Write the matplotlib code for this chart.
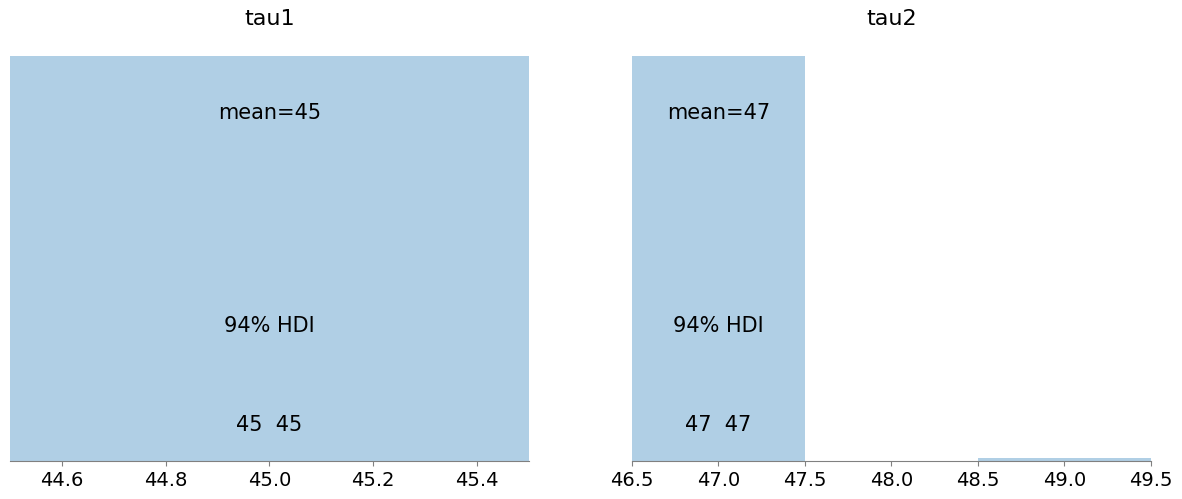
import numpy as np
import matplotlib
matplotlib.use("Agg")
import matplotlib.pyplot as plt

# posterior samples summarised as histogram counts
names = ["tau1", "tau2"]
bin_edges = [[44.5, 45.5], [46.5, 47.5, 48.5, 49.5]]
counts = [[4000], [3970, 0, 30]]
means = [45, 47]
hdi = [(45, 45), (47, 47)]
xticks = [[44.6, 44.8, 45.0, 45.2, 45.4], [46.5, 47.0, 47.5, 48.0, 48.5, 49.0, 49.5]]

bar_color = (0.69, 0.812, 0.898)

fig = plt.figure(figsize=(11.82, 4.99), dpi=100)
positions = [[0.0085, 0.076, 0.439, 0.812], [0.5347, 0.076, 0.439, 0.812]]

for i in range(2):
    ax = fig.add_axes(positions[i])
    edges = np.array(bin_edges[i])
    ax.bar(edges[:-1], counts[i], width=np.diff(edges), align='edge', color=bar_color, linewidth=0)
    ax.set_xlim(edges[0], edges[-1])
    ax.set_ylim(0, max(counts[i]))
    ax.set_xticks(xticks[i])
    ax.set_xticklabels(["%.1f" % t for t in xticks[i]])
    ax.tick_params(axis='x', labelsize=14, color='grey')
    ax.set_yticks([])
    for s in ['left', 'right', 'top']:
        ax.spines[s].set_visible(False)
    ax.spines['bottom'].set_color('grey')
    ax.set_title(names[i], fontsize=16, pad=22)
    cx = means[i]
    tr = ax.get_xaxis_transform()
    ax.text(cx, 0.86, "mean=%d" % means[i], transform=tr, ha='center', va='center', fontsize=15)
    ax.text(cx, 0.333, "94% HDI", transform=tr, ha='center', va='center', fontsize=15)
    ax.text(cx, 0.09, "%d  %d" % hdi[i], transform=tr, ha='center', va='center', fontsize=15)

plt.savefig("out.png", dpi=100)
